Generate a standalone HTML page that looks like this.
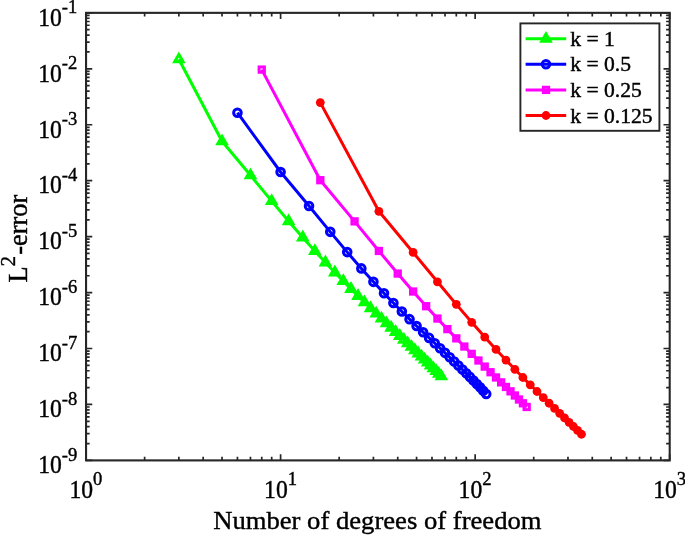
<!DOCTYPE html>
<html lang="en"><head><meta charset="utf-8"><title>L2-error vs number of degrees of freedom</title>
<style>html,body{margin:0;padding:0;background:#fff}body{width:685px;height:535px;overflow:hidden}</style></head>
<body>
<svg width="685" height="535" viewBox="0 0 685 535" style="display:block">
<rect width="685" height="535" fill="#fff"/>
<g><polyline points="178.87,59.30 222.03,141.30 250.46,175.32 271.70,201.15 288.65,221.27 302.77,237.52 314.86,251.03 325.43,262.50 334.83,272.44 343.29,281.17 350.97,288.95 358.02,295.96 364.52,302.34 370.56,308.19 376.19,313.59 381.48,318.63 386.45,323.34 391.14,327.77 395.59,331.96 399.82,335.94 403.84,339.74 407.68,343.37 411.36,346.86 414.88,350.22 418.26,353.46 421.51,356.60 424.64,359.64 427.66,362.60 430.57,365.48 433.39,368.29 436.11,371.03 438.75,373.72 441.31,376.35" fill="none" stroke="#00ff00" stroke-width="3.0" stroke-linejoin="round"/>
<path d="M178.87 54.40L183.12 61.75L174.63 61.75Z" fill="none" stroke="#00ff00" stroke-width="3.0" stroke-linejoin="miter"/>
<path d="M222.03 136.40L226.28 143.75L217.79 143.75Z" fill="none" stroke="#00ff00" stroke-width="3.0" stroke-linejoin="miter"/>
<path d="M250.46 170.42L254.71 177.77L246.22 177.77Z" fill="none" stroke="#00ff00" stroke-width="3.0" stroke-linejoin="miter"/>
<path d="M271.70 196.25L275.94 203.60L267.45 203.60Z" fill="none" stroke="#00ff00" stroke-width="3.0" stroke-linejoin="miter"/>
<path d="M288.65 216.37L292.90 223.72L284.41 223.72Z" fill="none" stroke="#00ff00" stroke-width="3.0" stroke-linejoin="miter"/>
<path d="M302.77 232.62L307.01 239.97L298.52 239.97Z" fill="none" stroke="#00ff00" stroke-width="3.0" stroke-linejoin="miter"/>
<path d="M314.86 246.13L319.10 253.48L310.62 253.48Z" fill="none" stroke="#00ff00" stroke-width="3.0" stroke-linejoin="miter"/>
<path d="M325.43 257.60L329.68 264.95L321.19 264.95Z" fill="none" stroke="#00ff00" stroke-width="3.0" stroke-linejoin="miter"/>
<path d="M334.83 267.54L339.07 274.89L330.59 274.89Z" fill="none" stroke="#00ff00" stroke-width="3.0" stroke-linejoin="miter"/>
<path d="M343.29 276.27L347.53 283.62L339.04 283.62Z" fill="none" stroke="#00ff00" stroke-width="3.0" stroke-linejoin="miter"/>
<path d="M350.97 284.05L355.22 291.40L346.73 291.40Z" fill="none" stroke="#00ff00" stroke-width="3.0" stroke-linejoin="miter"/>
<path d="M358.02 291.06L362.26 298.41L353.78 298.41Z" fill="none" stroke="#00ff00" stroke-width="3.0" stroke-linejoin="miter"/>
<path d="M364.52 297.44L368.77 304.79L360.28 304.79Z" fill="none" stroke="#00ff00" stroke-width="3.0" stroke-linejoin="miter"/>
<path d="M370.56 303.29L374.80 310.64L366.32 310.64Z" fill="none" stroke="#00ff00" stroke-width="3.0" stroke-linejoin="miter"/>
<path d="M376.19 308.69L380.44 316.04L371.95 316.04Z" fill="none" stroke="#00ff00" stroke-width="3.0" stroke-linejoin="miter"/>
<path d="M381.48 313.73L385.72 321.08L377.23 321.08Z" fill="none" stroke="#00ff00" stroke-width="3.0" stroke-linejoin="miter"/>
<path d="M386.45 318.44L390.69 325.79L382.21 325.79Z" fill="none" stroke="#00ff00" stroke-width="3.0" stroke-linejoin="miter"/>
<path d="M391.14 322.87L395.39 330.22L386.90 330.22Z" fill="none" stroke="#00ff00" stroke-width="3.0" stroke-linejoin="miter"/>
<path d="M395.59 327.06L399.84 334.41L391.35 334.41Z" fill="none" stroke="#00ff00" stroke-width="3.0" stroke-linejoin="miter"/>
<path d="M399.82 331.04L404.06 338.39L395.57 338.39Z" fill="none" stroke="#00ff00" stroke-width="3.0" stroke-linejoin="miter"/>
<path d="M403.84 334.84L408.08 342.19L399.60 342.19Z" fill="none" stroke="#00ff00" stroke-width="3.0" stroke-linejoin="miter"/>
<path d="M407.68 338.47L411.93 345.82L403.44 345.82Z" fill="none" stroke="#00ff00" stroke-width="3.0" stroke-linejoin="miter"/>
<path d="M411.36 341.96L415.60 349.31L407.11 349.31Z" fill="none" stroke="#00ff00" stroke-width="3.0" stroke-linejoin="miter"/>
<path d="M414.88 345.32L419.12 352.67L410.63 352.67Z" fill="none" stroke="#00ff00" stroke-width="3.0" stroke-linejoin="miter"/>
<path d="M418.26 348.56L422.50 355.91L414.01 355.91Z" fill="none" stroke="#00ff00" stroke-width="3.0" stroke-linejoin="miter"/>
<path d="M421.51 351.70L425.75 359.05L417.26 359.05Z" fill="none" stroke="#00ff00" stroke-width="3.0" stroke-linejoin="miter"/>
<path d="M424.64 354.74L428.88 362.09L420.39 362.09Z" fill="none" stroke="#00ff00" stroke-width="3.0" stroke-linejoin="miter"/>
<path d="M427.66 357.70L431.90 365.05L423.41 365.05Z" fill="none" stroke="#00ff00" stroke-width="3.0" stroke-linejoin="miter"/>
<path d="M430.57 360.58L434.81 367.93L426.33 367.93Z" fill="none" stroke="#00ff00" stroke-width="3.0" stroke-linejoin="miter"/>
<path d="M433.39 363.39L437.63 370.74L429.14 370.74Z" fill="none" stroke="#00ff00" stroke-width="3.0" stroke-linejoin="miter"/>
<path d="M436.11 366.13L440.36 373.48L431.87 373.48Z" fill="none" stroke="#00ff00" stroke-width="3.0" stroke-linejoin="miter"/>
<path d="M438.75 368.82L443.00 376.17L434.51 376.17Z" fill="none" stroke="#00ff00" stroke-width="3.0" stroke-linejoin="miter"/>
<path d="M441.31 371.45L445.56 378.80L437.07 378.80Z" fill="none" stroke="#00ff00" stroke-width="3.0" stroke-linejoin="miter"/>
</g>
<g><polyline points="237.44,112.70 280.60,172.00 309.03,205.98 330.26,231.87 347.22,252.11 361.33,268.40 373.42,281.85 384.00,293.20 393.40,302.97 401.85,311.53 409.54,319.13 416.58,325.97 423.09,332.19 429.12,337.91 434.76,343.22 440.04,348.19 445.01,352.86 449.71,357.30 454.16,361.53 458.38,365.58 462.41,369.49 466.25,373.26 469.92,376.92 473.44,380.49 476.82,383.97 480.07,387.37 483.20,390.72 486.22,394.00" fill="none" stroke="#0000ff" stroke-width="3.0" stroke-linejoin="round"/>
<circle cx="237.44" cy="112.70" r="3.8" fill="none" stroke="#0000ff" stroke-width="3.0"/>
<circle cx="280.60" cy="172.00" r="3.8" fill="none" stroke="#0000ff" stroke-width="3.0"/>
<circle cx="309.03" cy="205.98" r="3.8" fill="none" stroke="#0000ff" stroke-width="3.0"/>
<circle cx="330.26" cy="231.87" r="3.8" fill="none" stroke="#0000ff" stroke-width="3.0"/>
<circle cx="347.22" cy="252.11" r="3.8" fill="none" stroke="#0000ff" stroke-width="3.0"/>
<circle cx="361.33" cy="268.40" r="3.8" fill="none" stroke="#0000ff" stroke-width="3.0"/>
<circle cx="373.42" cy="281.85" r="3.8" fill="none" stroke="#0000ff" stroke-width="3.0"/>
<circle cx="384.00" cy="293.20" r="3.8" fill="none" stroke="#0000ff" stroke-width="3.0"/>
<circle cx="393.40" cy="302.97" r="3.8" fill="none" stroke="#0000ff" stroke-width="3.0"/>
<circle cx="401.85" cy="311.53" r="3.8" fill="none" stroke="#0000ff" stroke-width="3.0"/>
<circle cx="409.54" cy="319.13" r="3.8" fill="none" stroke="#0000ff" stroke-width="3.0"/>
<circle cx="416.58" cy="325.97" r="3.8" fill="none" stroke="#0000ff" stroke-width="3.0"/>
<circle cx="423.09" cy="332.19" r="3.8" fill="none" stroke="#0000ff" stroke-width="3.0"/>
<circle cx="429.12" cy="337.91" r="3.8" fill="none" stroke="#0000ff" stroke-width="3.0"/>
<circle cx="434.76" cy="343.22" r="3.8" fill="none" stroke="#0000ff" stroke-width="3.0"/>
<circle cx="440.04" cy="348.19" r="3.8" fill="none" stroke="#0000ff" stroke-width="3.0"/>
<circle cx="445.01" cy="352.86" r="3.8" fill="none" stroke="#0000ff" stroke-width="3.0"/>
<circle cx="449.71" cy="357.30" r="3.8" fill="none" stroke="#0000ff" stroke-width="3.0"/>
<circle cx="454.16" cy="361.53" r="3.8" fill="none" stroke="#0000ff" stroke-width="3.0"/>
<circle cx="458.38" cy="365.58" r="3.8" fill="none" stroke="#0000ff" stroke-width="3.0"/>
<circle cx="462.41" cy="369.49" r="3.8" fill="none" stroke="#0000ff" stroke-width="3.0"/>
<circle cx="466.25" cy="373.26" r="3.8" fill="none" stroke="#0000ff" stroke-width="3.0"/>
<circle cx="469.92" cy="376.92" r="3.8" fill="none" stroke="#0000ff" stroke-width="3.0"/>
<circle cx="473.44" cy="380.49" r="3.8" fill="none" stroke="#0000ff" stroke-width="3.0"/>
<circle cx="476.82" cy="383.97" r="3.8" fill="none" stroke="#0000ff" stroke-width="3.0"/>
<circle cx="480.07" cy="387.37" r="3.8" fill="none" stroke="#0000ff" stroke-width="3.0"/>
<circle cx="483.20" cy="390.72" r="3.8" fill="none" stroke="#0000ff" stroke-width="3.0"/>
<circle cx="486.22" cy="394.00" r="3.8" fill="none" stroke="#0000ff" stroke-width="3.0"/>
</g>
<g><polyline points="261.75,69.60 320.31,180.20 354.57,221.38 378.88,250.96 397.73,273.57 413.14,291.51 426.16,306.21 437.44,318.55 447.39,329.13 456.30,338.37 464.35,346.54 471.70,353.87 478.46,360.52 484.73,366.61 490.55,372.23 496.01,377.46 501.13,382.36 505.96,386.97 510.53,391.34 514.86,395.50 518.98,399.48 522.91,403.29 526.67,406.97" fill="none" stroke="#ff00ff" stroke-width="3.0" stroke-linejoin="round"/>
<rect x="259.10" y="66.95" width="5.3" height="5.3" fill="none" stroke="#ff00ff" stroke-width="3.0"/>
<rect x="317.66" y="177.55" width="5.3" height="5.3" fill="none" stroke="#ff00ff" stroke-width="3.0"/>
<rect x="351.92" y="218.73" width="5.3" height="5.3" fill="none" stroke="#ff00ff" stroke-width="3.0"/>
<rect x="376.23" y="248.31" width="5.3" height="5.3" fill="none" stroke="#ff00ff" stroke-width="3.0"/>
<rect x="395.08" y="270.92" width="5.3" height="5.3" fill="none" stroke="#ff00ff" stroke-width="3.0"/>
<rect x="410.49" y="288.86" width="5.3" height="5.3" fill="none" stroke="#ff00ff" stroke-width="3.0"/>
<rect x="423.51" y="303.56" width="5.3" height="5.3" fill="none" stroke="#ff00ff" stroke-width="3.0"/>
<rect x="434.79" y="315.90" width="5.3" height="5.3" fill="none" stroke="#ff00ff" stroke-width="3.0"/>
<rect x="444.74" y="326.48" width="5.3" height="5.3" fill="none" stroke="#ff00ff" stroke-width="3.0"/>
<rect x="453.65" y="335.72" width="5.3" height="5.3" fill="none" stroke="#ff00ff" stroke-width="3.0"/>
<rect x="461.70" y="343.89" width="5.3" height="5.3" fill="none" stroke="#ff00ff" stroke-width="3.0"/>
<rect x="469.05" y="351.22" width="5.3" height="5.3" fill="none" stroke="#ff00ff" stroke-width="3.0"/>
<rect x="475.81" y="357.87" width="5.3" height="5.3" fill="none" stroke="#ff00ff" stroke-width="3.0"/>
<rect x="482.08" y="363.96" width="5.3" height="5.3" fill="none" stroke="#ff00ff" stroke-width="3.0"/>
<rect x="487.90" y="369.58" width="5.3" height="5.3" fill="none" stroke="#ff00ff" stroke-width="3.0"/>
<rect x="493.36" y="374.81" width="5.3" height="5.3" fill="none" stroke="#ff00ff" stroke-width="3.0"/>
<rect x="498.48" y="379.71" width="5.3" height="5.3" fill="none" stroke="#ff00ff" stroke-width="3.0"/>
<rect x="503.31" y="384.32" width="5.3" height="5.3" fill="none" stroke="#ff00ff" stroke-width="3.0"/>
<rect x="507.88" y="388.69" width="5.3" height="5.3" fill="none" stroke="#ff00ff" stroke-width="3.0"/>
<rect x="512.21" y="392.85" width="5.3" height="5.3" fill="none" stroke="#ff00ff" stroke-width="3.0"/>
<rect x="516.33" y="396.83" width="5.3" height="5.3" fill="none" stroke="#ff00ff" stroke-width="3.0"/>
<rect x="520.26" y="400.64" width="5.3" height="5.3" fill="none" stroke="#ff00ff" stroke-width="3.0"/>
<rect x="524.02" y="404.32" width="5.3" height="5.3" fill="none" stroke="#ff00ff" stroke-width="3.0"/>
</g>
<g><polyline points="320.31,102.60 378.88,211.30 413.14,252.43 437.44,281.78 456.30,304.35 471.70,322.32 484.73,337.05 496.01,349.43 505.96,360.05 514.86,369.31 522.91,377.51 530.27,384.85 537.03,391.51 543.29,397.61 549.12,403.23 554.57,408.46 559.70,413.36 564.52,417.97 569.09,422.33 573.43,426.49 577.55,430.45 581.48,434.26" fill="none" stroke="#ff0000" stroke-width="3.0" stroke-linejoin="round"/>
<circle cx="320.31" cy="102.60" r="4.4" fill="#ff0000"/>
<circle cx="378.88" cy="211.30" r="4.4" fill="#ff0000"/>
<circle cx="413.14" cy="252.43" r="4.4" fill="#ff0000"/>
<circle cx="437.44" cy="281.78" r="4.4" fill="#ff0000"/>
<circle cx="456.30" cy="304.35" r="4.4" fill="#ff0000"/>
<circle cx="471.70" cy="322.32" r="4.4" fill="#ff0000"/>
<circle cx="484.73" cy="337.05" r="4.4" fill="#ff0000"/>
<circle cx="496.01" cy="349.43" r="4.4" fill="#ff0000"/>
<circle cx="505.96" cy="360.05" r="4.4" fill="#ff0000"/>
<circle cx="514.86" cy="369.31" r="4.4" fill="#ff0000"/>
<circle cx="522.91" cy="377.51" r="4.4" fill="#ff0000"/>
<circle cx="530.27" cy="384.85" r="4.4" fill="#ff0000"/>
<circle cx="537.03" cy="391.51" r="4.4" fill="#ff0000"/>
<circle cx="543.29" cy="397.61" r="4.4" fill="#ff0000"/>
<circle cx="549.12" cy="403.23" r="4.4" fill="#ff0000"/>
<circle cx="554.57" cy="408.46" r="4.4" fill="#ff0000"/>
<circle cx="559.70" cy="413.36" r="4.4" fill="#ff0000"/>
<circle cx="564.52" cy="417.97" r="4.4" fill="#ff0000"/>
<circle cx="569.09" cy="422.33" r="4.4" fill="#ff0000"/>
<circle cx="573.43" cy="426.49" r="4.4" fill="#ff0000"/>
<circle cx="577.55" cy="430.45" r="4.4" fill="#ff0000"/>
<circle cx="581.48" cy="434.26" r="4.4" fill="#ff0000"/>
</g>
<path d="M86.05 460.4v-6.2M86.05 12.85v6.2M144.62 460.4v-3.6M144.62 12.85v3.6M178.87 460.4v-3.6M178.87 12.85v3.6M203.18 460.4v-3.6M203.18 12.85v3.6M222.03 460.4v-3.6M222.03 12.85v3.6M237.44 460.4v-3.6M237.44 12.85v3.6M250.46 460.4v-3.6M250.46 12.85v3.6M261.75 460.4v-3.6M261.75 12.85v3.6M271.70 460.4v-3.6M271.70 12.85v3.6M280.60 460.4v-6.2M280.60 12.85v6.2M339.17 460.4v-3.6M339.17 12.85v3.6M373.42 460.4v-3.6M373.42 12.85v3.6M397.73 460.4v-3.6M397.73 12.85v3.6M416.58 460.4v-3.6M416.58 12.85v3.6M431.99 460.4v-3.6M431.99 12.85v3.6M445.01 460.4v-3.6M445.01 12.85v3.6M456.30 460.4v-3.6M456.30 12.85v3.6M466.25 460.4v-3.6M466.25 12.85v3.6M475.15 460.4v-6.2M475.15 12.85v6.2M533.72 460.4v-3.6M533.72 12.85v3.6M567.97 460.4v-3.6M567.97 12.85v3.6M592.28 460.4v-3.6M592.28 12.85v3.6M611.13 460.4v-3.6M611.13 12.85v3.6M626.54 460.4v-3.6M626.54 12.85v3.6M639.56 460.4v-3.6M639.56 12.85v3.6M650.85 460.4v-3.6M650.85 12.85v3.6M660.80 460.4v-3.6M660.80 12.85v3.6M669.70 460.4v-6.2M669.70 12.85v6.2M86.05 460.40h6.2M669.7 460.40h-6.2M86.05 443.56h3.6M669.7 443.56h-3.6M86.05 433.71h3.6M669.7 433.71h-3.6M86.05 426.72h3.6M669.7 426.72h-3.6M86.05 421.30h3.6M669.7 421.30h-3.6M86.05 416.87h3.6M669.7 416.87h-3.6M86.05 413.12h3.6M669.7 413.12h-3.6M86.05 409.88h3.6M669.7 409.88h-3.6M86.05 407.02h3.6M669.7 407.02h-3.6M86.05 404.46h6.2M669.7 404.46h-6.2M86.05 387.62h3.6M669.7 387.62h-3.6M86.05 377.76h3.6M669.7 377.76h-3.6M86.05 370.77h3.6M669.7 370.77h-3.6M86.05 365.35h3.6M669.7 365.35h-3.6M86.05 360.92h3.6M669.7 360.92h-3.6M86.05 357.18h3.6M669.7 357.18h-3.6M86.05 353.93h3.6M669.7 353.93h-3.6M86.05 351.07h3.6M669.7 351.07h-3.6M86.05 348.51h6.2M669.7 348.51h-6.2M86.05 331.67h3.6M669.7 331.67h-3.6M86.05 321.82h3.6M669.7 321.82h-3.6M86.05 314.83h3.6M669.7 314.83h-3.6M86.05 309.41h3.6M669.7 309.41h-3.6M86.05 304.98h3.6M669.7 304.98h-3.6M86.05 301.23h3.6M669.7 301.23h-3.6M86.05 297.99h3.6M669.7 297.99h-3.6M86.05 295.13h3.6M669.7 295.13h-3.6M86.05 292.57h6.2M669.7 292.57h-6.2M86.05 275.73h3.6M669.7 275.73h-3.6M86.05 265.88h3.6M669.7 265.88h-3.6M86.05 258.89h3.6M669.7 258.89h-3.6M86.05 253.47h3.6M669.7 253.47h-3.6M86.05 249.04h3.6M669.7 249.04h-3.6M86.05 245.29h3.6M669.7 245.29h-3.6M86.05 242.05h3.6M669.7 242.05h-3.6M86.05 239.18h3.6M669.7 239.18h-3.6M86.05 236.62h6.2M669.7 236.62h-6.2M86.05 219.78h3.6M669.7 219.78h-3.6M86.05 209.93h3.6M669.7 209.93h-3.6M86.05 202.94h3.6M669.7 202.94h-3.6M86.05 197.52h3.6M669.7 197.52h-3.6M86.05 193.09h3.6M669.7 193.09h-3.6M86.05 189.35h3.6M669.7 189.35h-3.6M86.05 186.10h3.6M669.7 186.10h-3.6M86.05 183.24h3.6M669.7 183.24h-3.6M86.05 180.68h6.2M669.7 180.68h-6.2M86.05 163.84h3.6M669.7 163.84h-3.6M86.05 153.99h3.6M669.7 153.99h-3.6M86.05 147.00h3.6M669.7 147.00h-3.6M86.05 141.58h3.6M669.7 141.58h-3.6M86.05 137.15h3.6M669.7 137.15h-3.6M86.05 133.40h3.6M669.7 133.40h-3.6M86.05 130.16h3.6M669.7 130.16h-3.6M86.05 127.30h3.6M669.7 127.30h-3.6M86.05 124.74h6.2M669.7 124.74h-6.2M86.05 107.90h3.6M669.7 107.90h-3.6M86.05 98.05h3.6M669.7 98.05h-3.6M86.05 91.06h3.6M669.7 91.06h-3.6M86.05 85.63h3.6M669.7 85.63h-3.6M86.05 81.20h3.6M669.7 81.20h-3.6M86.05 77.46h3.6M669.7 77.46h-3.6M86.05 74.22h3.6M669.7 74.22h-3.6M86.05 71.35h3.6M669.7 71.35h-3.6M86.05 68.79h6.2M669.7 68.79h-6.2M86.05 51.95h3.6M669.7 51.95h-3.6M86.05 42.10h3.6M669.7 42.10h-3.6M86.05 35.11h3.6M669.7 35.11h-3.6M86.05 29.69h3.6M669.7 29.69h-3.6M86.05 25.26h3.6M669.7 25.26h-3.6M86.05 21.52h3.6M669.7 21.52h-3.6M86.05 18.27h3.6M669.7 18.27h-3.6M86.05 15.41h3.6M669.7 15.41h-3.6M86.05 12.85h6.2M669.7 12.85h-6.2M86.05 -3.99h3.6M669.7 -3.99h-3.6M86.05 -13.84h3.6M669.7 -13.84h-3.6M86.05 -20.83h3.6M669.7 -20.83h-3.6M86.05 -26.25h3.6M669.7 -26.25h-3.6M86.05 -30.68h3.6M669.7 -30.68h-3.6M86.05 -34.43h3.6M669.7 -34.43h-3.6M86.05 -37.67h3.6M669.7 -37.67h-3.6M86.05 -40.53h3.6M669.7 -40.53h-3.6M86.05 12.85h6.2M669.7 12.85h-6.2" stroke="#262626" stroke-width="1.7" fill="none"/>
<rect x="86.05" y="12.85" width="583.65" height="447.55" fill="none" stroke="#262626" stroke-width="2.1"/>
<g font-family="'Liberation Serif', 'Times New Roman', Times, serif" fill="#000" font-size="24" stroke="#000" stroke-width="0.4">
<text transform="translate(86.25 497.5) scale(0.985 1.025)" x="-17.0" y="0">10<tspan font-size="18.9" dy="-11.9">0</tspan></text>
<text transform="translate(280.80 497.5) scale(0.985 1.025)" x="-17.0" y="0">10<tspan font-size="18.9" dy="-11.9">1</tspan></text>
<text transform="translate(475.35 497.5) scale(0.985 1.025)" x="-17.0" y="0">10<tspan font-size="18.9" dy="-11.9">2</tspan></text>
<text transform="translate(669.90 497.5) scale(0.985 1.025)" x="-17.0" y="0">10<tspan font-size="18.9" dy="-11.9">3</tspan></text>
<text transform="translate(77.3 473.20) scale(0.985 1.025)" x="0" y="0" text-anchor="end">10<tspan font-size="18.9" dy="-11.9">-9</tspan></text>
<text transform="translate(77.3 417.26) scale(0.985 1.025)" x="0" y="0" text-anchor="end">10<tspan font-size="18.9" dy="-11.9">-8</tspan></text>
<text transform="translate(77.3 361.31) scale(0.985 1.025)" x="0" y="0" text-anchor="end">10<tspan font-size="18.9" dy="-11.9">-7</tspan></text>
<text transform="translate(77.3 305.37) scale(0.985 1.025)" x="0" y="0" text-anchor="end">10<tspan font-size="18.9" dy="-11.9">-6</tspan></text>
<text transform="translate(77.3 249.42) scale(0.985 1.025)" x="0" y="0" text-anchor="end">10<tspan font-size="18.9" dy="-11.9">-5</tspan></text>
<text transform="translate(77.3 193.48) scale(0.985 1.025)" x="0" y="0" text-anchor="end">10<tspan font-size="18.9" dy="-11.9">-4</tspan></text>
<text transform="translate(77.3 137.54) scale(0.985 1.025)" x="0" y="0" text-anchor="end">10<tspan font-size="18.9" dy="-11.9">-3</tspan></text>
<text transform="translate(77.3 81.59) scale(0.985 1.025)" x="0" y="0" text-anchor="end">10<tspan font-size="18.9" dy="-11.9">-2</tspan></text>
<text transform="translate(77.3 25.65) scale(0.985 1.025)" x="0" y="0" text-anchor="end">10<tspan font-size="18.9" dy="-11.9">-1</tspan></text>
</g>
<text font-family="'Liberation Serif', 'Times New Roman', Times, serif" fill="#000" stroke="#000" stroke-width="0.4" font-size="25.6" x="213.2" y="528.8" textLength="328.3" lengthAdjust="spacingAndGlyphs">Number of degrees of freedom</text>
<text font-family="'Liberation Serif', 'Times New Roman', Times, serif" fill="#000" stroke="#000" stroke-width="0.4" font-size="26.4" transform="translate(26.5 282.5) rotate(-90)">L<tspan font-size="21.1" dy="-12">2</tspan><tspan dy="12" dx="1">-error</tspan></text>
<rect x="520.4" y="23.4" width="139.00" height="107.40" fill="#fff" stroke="#262626" stroke-width="1.9"/>
<path d="M525.6 38.8H566.2" stroke="#00ff00" stroke-width="3.0" fill="none"/>
<path d="M546.00 33.90L550.24 41.25L541.76 41.25Z" fill="none" stroke="#00ff00" stroke-width="3.0" stroke-linejoin="miter"/>
<text font-family="'Liberation Serif', 'Times New Roman', Times, serif" fill="#000" stroke="#000" stroke-width="0.45" font-size="21.6" x="570.3" y="45.90">k = 1</text>
<path d="M525.6 64.3H566.2" stroke="#0000ff" stroke-width="3.0" fill="none"/>
<circle cx="546.00" cy="64.30" r="3.8" fill="none" stroke="#0000ff" stroke-width="3.0"/>
<text font-family="'Liberation Serif', 'Times New Roman', Times, serif" fill="#000" stroke="#000" stroke-width="0.45" font-size="21.6" x="570.3" y="71.40">k = 0.5</text>
<path d="M525.6 89.9H566.2" stroke="#ff00ff" stroke-width="3.0" fill="none"/>
<rect x="543.35" y="87.25" width="5.3" height="5.3" fill="none" stroke="#ff00ff" stroke-width="3.0"/>
<text font-family="'Liberation Serif', 'Times New Roman', Times, serif" fill="#000" stroke="#000" stroke-width="0.45" font-size="21.6" x="570.3" y="97.00">k = 0.25</text>
<path d="M525.6 115.5H566.2" stroke="#ff0000" stroke-width="3.0" fill="none"/>
<circle cx="546.00" cy="115.50" r="4.4" fill="#ff0000"/>
<text font-family="'Liberation Serif', 'Times New Roman', Times, serif" fill="#000" stroke="#000" stroke-width="0.45" font-size="21.6" x="570.3" y="122.60">k = 0.125</text>
</svg>
</body></html>
